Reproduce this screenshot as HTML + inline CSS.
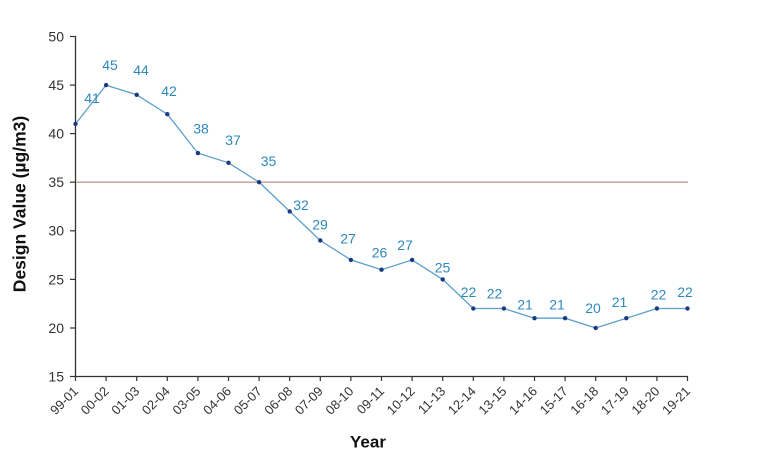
<!DOCTYPE html>
<html><head><meta charset="utf-8"><style>
html,body{margin:0;padding:0;background:#fff;}
svg{display:block;}
text{font-family:"Liberation Sans",sans-serif;}
</style></head><body>
<svg width="759" height="460" viewBox="0 0 759 460" xmlns="http://www.w3.org/2000/svg">
<rect width="759" height="460" fill="#fff"/>
<!-- axes -->
<line x1="75.5" y1="36" x2="75.5" y2="377" stroke="#333" stroke-width="1.3"/>
<line x1="75" y1="376.5" x2="688" y2="376.5" stroke="#333" stroke-width="1.3"/>
<g stroke="#333" stroke-width="1.2">
<line x1="70" y1="36.5" x2="75.5" y2="36.5"/>
<line x1="70" y1="85.1" x2="75.5" y2="85.1"/>
<line x1="70" y1="133.6" x2="75.5" y2="133.6"/>
<line x1="70" y1="182.2" x2="75.5" y2="182.2"/>
<line x1="70" y1="230.8" x2="75.5" y2="230.8"/>
<line x1="70" y1="279.4" x2="75.5" y2="279.4"/>
<line x1="70" y1="328" x2="75.5" y2="328"/>
<line x1="70" y1="376.5" x2="75.5" y2="376.5"/>
</g>
<g font-size="14" fill="#333" text-anchor="end">
<text x="64" y="41.5">50</text>
<text x="64" y="90">45</text>
<text x="64" y="138.5">40</text>
<text x="64" y="187">35</text>
<text x="64" y="235.5">30</text>
<text x="64" y="284.5">25</text>
<text x="64" y="333">20</text>
<text x="64" y="381.5">15</text>
</g>
<g stroke="#333" stroke-width="1.2">
<line x1="75.5" y1="376.5" x2="75.5" y2="381"/><line x1="106.1" y1="376.5" x2="106.1" y2="381"/><line x1="136.7" y1="376.5" x2="136.7" y2="381"/><line x1="167.3" y1="376.5" x2="167.3" y2="381"/><line x1="197.9" y1="376.5" x2="197.9" y2="381"/><line x1="228.5" y1="376.5" x2="228.5" y2="381"/><line x1="259.1" y1="376.5" x2="259.1" y2="381"/><line x1="289.7" y1="376.5" x2="289.7" y2="381"/><line x1="320.3" y1="376.5" x2="320.3" y2="381"/><line x1="350.9" y1="376.5" x2="350.9" y2="381"/><line x1="381.5" y1="376.5" x2="381.5" y2="381"/><line x1="412.1" y1="376.5" x2="412.1" y2="381"/><line x1="442.7" y1="376.5" x2="442.7" y2="381"/><line x1="473.3" y1="376.5" x2="473.3" y2="381"/><line x1="503.9" y1="376.5" x2="503.9" y2="381"/><line x1="534.5" y1="376.5" x2="534.5" y2="381"/><line x1="565.1" y1="376.5" x2="565.1" y2="381"/><line x1="595.7" y1="376.5" x2="595.7" y2="381"/><line x1="626.3" y1="376.5" x2="626.3" y2="381"/><line x1="656.9" y1="376.5" x2="656.9" y2="381"/><line x1="687.5" y1="376.5" x2="687.5" y2="381"/>
</g>
<g font-size="13" fill="#333" text-anchor="end">
<text transform="translate(79,392) rotate(-45)">99-01</text>
<text transform="translate(109.6,392) rotate(-45)">00-02</text>
<text transform="translate(140.2,392) rotate(-45)">01-03</text>
<text transform="translate(170.8,392) rotate(-45)">02-04</text>
<text transform="translate(201.4,392) rotate(-45)">03-05</text>
<text transform="translate(232,392) rotate(-45)">04-06</text>
<text transform="translate(262.6,392) rotate(-45)">05-07</text>
<text transform="translate(293.2,392) rotate(-45)">06-08</text>
<text transform="translate(323.8,392) rotate(-45)">07-09</text>
<text transform="translate(354.4,392) rotate(-45)">08-10</text>
<text transform="translate(385,392) rotate(-45)">09-11</text>
<text transform="translate(415.6,392) rotate(-45)">10-12</text>
<text transform="translate(446.2,392) rotate(-45)">11-13</text>
<text transform="translate(476.8,392) rotate(-45)">12-14</text>
<text transform="translate(507.4,392) rotate(-45)">13-15</text>
<text transform="translate(538,392) rotate(-45)">14-16</text>
<text transform="translate(568.6,392) rotate(-45)">15-17</text>
<text transform="translate(599.2,392) rotate(-45)">16-18</text>
<text transform="translate(629.8,392) rotate(-45)">17-19</text>
<text transform="translate(660.4,392) rotate(-45)">18-20</text>
<text transform="translate(691,392) rotate(-45)">19-21</text>
</g>
<!-- reference line -->
<line x1="76" y1="182.2" x2="688" y2="182.2" stroke="#c89896" stroke-width="1.4"/>
<!-- series -->
<polyline fill="none" stroke="#5b9fcc" stroke-width="1.3" points="75.5,123.9 106.1,85.1 136.7,94.8 167.3,114.2 197.9,153.1 228.5,162.8 259.1,182.2 289.7,211.4 320.3,240.5 350.9,259.9 381.5,269.7 412.1,259.9 442.7,279.4 473.3,308.5 503.9,308.5 534.5,318.2 565.1,318.2 595.7,328 626.3,318.2 656.9,308.5 687.5,308.5"/>
<g fill="#1c3a82">
<circle cx="75.5" cy="123.9" r="2.2"/><circle cx="106.1" cy="85.1" r="2.2"/><circle cx="136.7" cy="94.8" r="2.2"/><circle cx="167.3" cy="114.2" r="2.2"/><circle cx="197.9" cy="153.1" r="2.2"/><circle cx="228.5" cy="162.8" r="2.2"/><circle cx="259.1" cy="182.2" r="2.2"/><circle cx="289.7" cy="211.4" r="2.2"/><circle cx="320.3" cy="240.5" r="2.2"/><circle cx="350.9" cy="259.9" r="2.2"/><circle cx="381.5" cy="269.7" r="2.2"/><circle cx="412.1" cy="259.9" r="2.2"/><circle cx="442.7" cy="279.4" r="2.2"/><circle cx="473.3" cy="308.5" r="2.2"/><circle cx="503.9" cy="308.5" r="2.2"/><circle cx="534.5" cy="318.2" r="2.2"/><circle cx="565.1" cy="318.2" r="2.2"/><circle cx="595.7" cy="328" r="2.2"/><circle cx="626.3" cy="318.2" r="2.2"/><circle cx="656.9" cy="308.5" r="2.2"/><circle cx="687.5" cy="308.5" r="2.2"/>
</g>
<g font-size="14" fill="#2f88bd" text-anchor="middle">
<text x="92" y="103">41</text>
<text x="110" y="70">45</text>
<text x="141" y="75">44</text>
<text x="169" y="96">42</text>
<text x="201" y="133.5">38</text>
<text x="233" y="145">37</text>
<text x="268.5" y="166">35</text>
<text x="301" y="210">32</text>
<text x="320" y="229.5">29</text>
<text x="348" y="243.5">27</text>
<text x="379.5" y="257.5">26</text>
<text x="405" y="250">27</text>
<text x="442.5" y="272.5">25</text>
<text x="468.5" y="297">22</text>
<text x="494.5" y="298.5">22</text>
<text x="525" y="309.5">21</text>
<text x="557" y="309.5">21</text>
<text x="593" y="313">20</text>
<text x="619.5" y="307">21</text>
<text x="658.5" y="299.5">22</text>
<text x="685" y="297">22</text>
</g>
<!-- titles -->
<text x="368" y="447.5" font-size="17" font-weight="bold" fill="#111" text-anchor="middle">Year</text>
<text transform="translate(25.5,204) rotate(-90)" font-size="17.5" font-weight="bold" fill="#111" text-anchor="middle">Design Value (µg/m3)</text>
</svg>
</body></html>
